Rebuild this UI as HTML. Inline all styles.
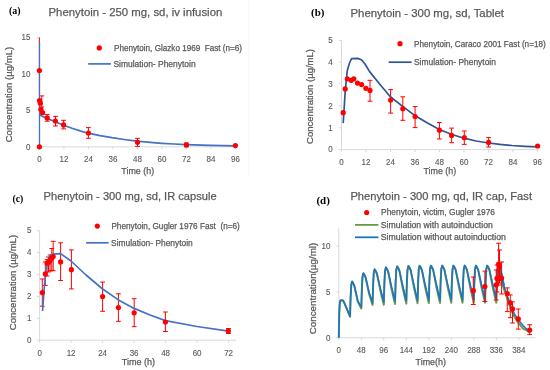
<!DOCTYPE html>
<html><head><meta charset="utf-8"><style>
html,body{margin:0;padding:0;background:#fff;}
svg{display:block;font-family:"Liberation Sans", sans-serif;will-change:transform;}
text{white-space:pre;}
</style></head><body>
<svg width="550" height="370" viewBox="0 0 550 370">
<rect width="550" height="370" fill="#fff"/>
<line x1="248.80" y1="0.00" x2="248.80" y2="176.00" stroke="#f2f2f2" stroke-width="0.8"/>
<text x="8.90" y="14.40" font-size="11" fill="#000" text-anchor="start" font-family='"Liberation Serif", serif' font-weight="bold" textLength="11.60" lengthAdjust="spacingAndGlyphs">(a)</text>
<text x="48.50" y="15.60" font-size="11.6" fill="#595959" text-anchor="start" stroke="#595959" stroke-width="0.25" textLength="173.80" lengthAdjust="spacingAndGlyphs">Phenytoin - 250 mg, sd, iv infusion</text>
<line x1="39.40" y1="146.80" x2="235.40" y2="146.80" stroke="#d9d9d9" stroke-width="1"/>
<line x1="39.40" y1="146.80" x2="39.40" y2="149.30" stroke="#d9d9d9" stroke-width="1"/>
<text x="39.40" y="161.91" font-size="8.5" fill="#595959" text-anchor="middle" stroke="#595959" stroke-width="0.12" textLength="4.45" lengthAdjust="spacingAndGlyphs">0</text>
<line x1="63.90" y1="146.80" x2="63.90" y2="149.30" stroke="#d9d9d9" stroke-width="1"/>
<text x="63.90" y="161.91" font-size="8.5" fill="#595959" text-anchor="middle" stroke="#595959" stroke-width="0.12" textLength="8.90" lengthAdjust="spacingAndGlyphs">12</text>
<line x1="88.40" y1="146.80" x2="88.40" y2="149.30" stroke="#d9d9d9" stroke-width="1"/>
<text x="88.40" y="161.91" font-size="8.5" fill="#595959" text-anchor="middle" stroke="#595959" stroke-width="0.12" textLength="8.90" lengthAdjust="spacingAndGlyphs">24</text>
<line x1="112.90" y1="146.80" x2="112.90" y2="149.30" stroke="#d9d9d9" stroke-width="1"/>
<text x="112.90" y="161.91" font-size="8.5" fill="#595959" text-anchor="middle" stroke="#595959" stroke-width="0.12" textLength="8.90" lengthAdjust="spacingAndGlyphs">36</text>
<line x1="137.40" y1="146.80" x2="137.40" y2="149.30" stroke="#d9d9d9" stroke-width="1"/>
<text x="137.40" y="161.91" font-size="8.5" fill="#595959" text-anchor="middle" stroke="#595959" stroke-width="0.12" textLength="8.90" lengthAdjust="spacingAndGlyphs">48</text>
<line x1="161.90" y1="146.80" x2="161.90" y2="149.30" stroke="#d9d9d9" stroke-width="1"/>
<text x="161.90" y="161.91" font-size="8.5" fill="#595959" text-anchor="middle" stroke="#595959" stroke-width="0.12" textLength="8.90" lengthAdjust="spacingAndGlyphs">60</text>
<line x1="186.40" y1="146.80" x2="186.40" y2="149.30" stroke="#d9d9d9" stroke-width="1"/>
<text x="186.40" y="161.91" font-size="8.5" fill="#595959" text-anchor="middle" stroke="#595959" stroke-width="0.12" textLength="8.90" lengthAdjust="spacingAndGlyphs">72</text>
<line x1="210.90" y1="146.80" x2="210.90" y2="149.30" stroke="#d9d9d9" stroke-width="1"/>
<text x="210.90" y="161.91" font-size="8.5" fill="#595959" text-anchor="middle" stroke="#595959" stroke-width="0.12" textLength="8.90" lengthAdjust="spacingAndGlyphs">84</text>
<line x1="235.40" y1="146.80" x2="235.40" y2="149.30" stroke="#d9d9d9" stroke-width="1"/>
<text x="235.40" y="161.91" font-size="8.5" fill="#595959" text-anchor="middle" stroke="#595959" stroke-width="0.12" textLength="8.90" lengthAdjust="spacingAndGlyphs">96</text>
<line x1="36.60" y1="146.80" x2="39.40" y2="146.80" stroke="#d9d9d9" stroke-width="1"/>
<text x="30.40" y="149.56" font-size="8.5" fill="#595959" text-anchor="end" stroke="#595959" stroke-width="0.12" textLength="4.45" lengthAdjust="spacingAndGlyphs">0</text>
<line x1="36.60" y1="110.40" x2="39.40" y2="110.40" stroke="#d9d9d9" stroke-width="1"/>
<text x="30.40" y="113.16" font-size="8.5" fill="#595959" text-anchor="end" stroke="#595959" stroke-width="0.12" textLength="4.45" lengthAdjust="spacingAndGlyphs">5</text>
<line x1="36.60" y1="74.00" x2="39.40" y2="74.00" stroke="#d9d9d9" stroke-width="1"/>
<text x="30.40" y="76.76" font-size="8.5" fill="#595959" text-anchor="end" stroke="#595959" stroke-width="0.12" textLength="8.90" lengthAdjust="spacingAndGlyphs">10</text>
<line x1="36.60" y1="37.60" x2="39.40" y2="37.60" stroke="#d9d9d9" stroke-width="1"/>
<text x="30.40" y="40.36" font-size="8.5" fill="#595959" text-anchor="end" stroke="#595959" stroke-width="0.12" textLength="8.90" lengthAdjust="spacingAndGlyphs">15</text>
<line x1="39.40" y1="37.60" x2="39.40" y2="146.80" stroke="#d9d9d9" stroke-width="1"/>
<text transform="translate(12.40,142.30) rotate(-90)" x="0" y="0" font-size="9.3" fill="#595959" stroke="#595959" stroke-width="0.25" textLength="95.50" lengthAdjust="spacingAndGlyphs">Concentration (µg/mL)</text>
<text x="121.30" y="173.90" font-size="9.3" fill="#595959" text-anchor="start" stroke="#595959" stroke-width="0.25" textLength="32.90" lengthAdjust="spacingAndGlyphs">Time (h)</text>
<circle cx="99.30" cy="47.90" r="2.6" fill="#ff0000"/>
<text x="114.00" y="50.80" font-size="8.6" fill="#595959" text-anchor="start" stroke="#595959" stroke-width="0.25" textLength="128.00" lengthAdjust="spacingAndGlyphs">Phenytoin, Glazko 1969  Fast (n=6)</text>
<line x1="88.20" y1="63.90" x2="110.90" y2="63.90" stroke="#4472c4" stroke-width="1.7"/>
<text x="113.40" y="66.70" font-size="8.6" fill="#595959" text-anchor="start" stroke="#595959" stroke-width="0.25" textLength="82.20" lengthAdjust="spacingAndGlyphs">Simulation- Phenytoin</text>
<line x1="39.40" y1="37.40" x2="39.40" y2="100.00" stroke="#ff0000" stroke-width="1.0"/>
<line x1="41.80" y1="95.90" x2="41.80" y2="107.00" stroke="#ff0000" stroke-width="1.0"/>
<line x1="39.40" y1="95.90" x2="44.20" y2="95.90" stroke="#ff0000" stroke-width="1.0"/>
<line x1="39.40" y1="107.00" x2="44.20" y2="107.00" stroke="#ff0000" stroke-width="1.0"/>
<line x1="47.20" y1="114.60" x2="47.20" y2="121.20" stroke="#ff0000" stroke-width="1.0"/>
<line x1="44.80" y1="114.60" x2="49.60" y2="114.60" stroke="#ff0000" stroke-width="1.0"/>
<line x1="44.80" y1="121.20" x2="49.60" y2="121.20" stroke="#ff0000" stroke-width="1.0"/>
<line x1="55.50" y1="116.40" x2="55.50" y2="126.00" stroke="#ff0000" stroke-width="1.0"/>
<line x1="53.10" y1="116.40" x2="57.90" y2="116.40" stroke="#ff0000" stroke-width="1.0"/>
<line x1="53.10" y1="126.00" x2="57.90" y2="126.00" stroke="#ff0000" stroke-width="1.0"/>
<line x1="63.60" y1="120.30" x2="63.60" y2="128.90" stroke="#ff0000" stroke-width="1.0"/>
<line x1="61.20" y1="120.30" x2="66.00" y2="120.30" stroke="#ff0000" stroke-width="1.0"/>
<line x1="61.20" y1="128.90" x2="66.00" y2="128.90" stroke="#ff0000" stroke-width="1.0"/>
<line x1="88.40" y1="127.60" x2="88.40" y2="138.30" stroke="#ff0000" stroke-width="1.0"/>
<line x1="86.00" y1="127.60" x2="90.80" y2="127.60" stroke="#ff0000" stroke-width="1.0"/>
<line x1="86.00" y1="138.30" x2="90.80" y2="138.30" stroke="#ff0000" stroke-width="1.0"/>
<line x1="137.50" y1="138.40" x2="137.50" y2="146.40" stroke="#ff0000" stroke-width="1.0"/>
<line x1="135.10" y1="138.40" x2="139.90" y2="138.40" stroke="#ff0000" stroke-width="1.0"/>
<line x1="135.10" y1="146.40" x2="139.90" y2="146.40" stroke="#ff0000" stroke-width="1.0"/>
<line x1="186.40" y1="143.00" x2="186.40" y2="146.80" stroke="#ff0000" stroke-width="1.0"/>
<line x1="184.00" y1="143.00" x2="188.80" y2="143.00" stroke="#ff0000" stroke-width="1.0"/>
<line x1="184.00" y1="146.80" x2="188.80" y2="146.80" stroke="#ff0000" stroke-width="1.0"/>
<path d="M39.50,146.80 L39.50,42.00" fill="none" stroke="#4472c4" stroke-width="1.3" stroke-linejoin="round"/>
<path d="M39.60,114.50 L41.00,115.60 L43.00,116.70 L47.00,118.40 L55.20,121.70 L63.60,125.30 L72.00,128.30 L80.00,130.90 L88.00,133.20 L100.00,135.60 L112.00,137.70 L124.00,139.50 L137.00,141.20 L150.00,142.40 L162.00,143.30 L174.00,144.00 L186.00,144.60 L210.00,145.40 L235.00,145.90" fill="none" stroke="#4472c4" stroke-width="1.7" stroke-linejoin="round"/>
<circle cx="39.40" cy="146.80" r="2.6" fill="#ff0000"/>
<circle cx="39.40" cy="70.50" r="2.6" fill="#ff0000"/>
<circle cx="39.50" cy="100.60" r="2.6" fill="#ff0000"/>
<circle cx="40.30" cy="103.20" r="2.6" fill="#ff0000"/>
<circle cx="40.90" cy="109.30" r="2.6" fill="#ff0000"/>
<circle cx="42.60" cy="112.70" r="2.6" fill="#ff0000"/>
<circle cx="47.20" cy="117.90" r="2.6" fill="#ff0000"/>
<circle cx="55.40" cy="121.00" r="2.6" fill="#ff0000"/>
<circle cx="63.60" cy="124.90" r="2.6" fill="#ff0000"/>
<circle cx="88.40" cy="133.00" r="2.6" fill="#ff0000"/>
<circle cx="137.50" cy="142.30" r="2.6" fill="#ff0000"/>
<circle cx="186.40" cy="144.90" r="2.6" fill="#ff0000"/>
<circle cx="235.40" cy="145.60" r="2.6" fill="#ff0000"/>
<text x="311.00" y="15.50" font-size="11" fill="#000" text-anchor="start" font-family='"Liberation Serif", serif' font-weight="bold" textLength="13.40" lengthAdjust="spacingAndGlyphs">(b)</text>
<text x="350.50" y="16.50" font-size="11.6" fill="#595959" text-anchor="start" stroke="#595959" stroke-width="0.25" textLength="153.50" lengthAdjust="spacingAndGlyphs">Phenytoin - 300 mg, sd, Tablet</text>
<line x1="341.50" y1="149.60" x2="537.53" y2="149.60" stroke="#d9d9d9" stroke-width="1"/>
<line x1="341.50" y1="149.60" x2="341.50" y2="152.10" stroke="#d9d9d9" stroke-width="1"/>
<text x="341.50" y="164.71" font-size="8.5" fill="#595959" text-anchor="middle" stroke="#595959" stroke-width="0.12" textLength="4.45" lengthAdjust="spacingAndGlyphs">0</text>
<line x1="366.00" y1="149.60" x2="366.00" y2="152.10" stroke="#d9d9d9" stroke-width="1"/>
<text x="366.00" y="164.71" font-size="8.5" fill="#595959" text-anchor="middle" stroke="#595959" stroke-width="0.12" textLength="8.90" lengthAdjust="spacingAndGlyphs">12</text>
<line x1="390.51" y1="149.60" x2="390.51" y2="152.10" stroke="#d9d9d9" stroke-width="1"/>
<text x="390.51" y="164.71" font-size="8.5" fill="#595959" text-anchor="middle" stroke="#595959" stroke-width="0.12" textLength="8.90" lengthAdjust="spacingAndGlyphs">24</text>
<line x1="415.01" y1="149.60" x2="415.01" y2="152.10" stroke="#d9d9d9" stroke-width="1"/>
<text x="415.01" y="164.71" font-size="8.5" fill="#595959" text-anchor="middle" stroke="#595959" stroke-width="0.12" textLength="8.90" lengthAdjust="spacingAndGlyphs">36</text>
<line x1="439.52" y1="149.60" x2="439.52" y2="152.10" stroke="#d9d9d9" stroke-width="1"/>
<text x="439.52" y="164.71" font-size="8.5" fill="#595959" text-anchor="middle" stroke="#595959" stroke-width="0.12" textLength="8.90" lengthAdjust="spacingAndGlyphs">48</text>
<line x1="464.02" y1="149.60" x2="464.02" y2="152.10" stroke="#d9d9d9" stroke-width="1"/>
<text x="464.02" y="164.71" font-size="8.5" fill="#595959" text-anchor="middle" stroke="#595959" stroke-width="0.12" textLength="8.90" lengthAdjust="spacingAndGlyphs">60</text>
<line x1="488.52" y1="149.60" x2="488.52" y2="152.10" stroke="#d9d9d9" stroke-width="1"/>
<text x="488.52" y="164.71" font-size="8.5" fill="#595959" text-anchor="middle" stroke="#595959" stroke-width="0.12" textLength="8.90" lengthAdjust="spacingAndGlyphs">72</text>
<line x1="513.03" y1="149.60" x2="513.03" y2="152.10" stroke="#d9d9d9" stroke-width="1"/>
<text x="513.03" y="164.71" font-size="8.5" fill="#595959" text-anchor="middle" stroke="#595959" stroke-width="0.12" textLength="8.90" lengthAdjust="spacingAndGlyphs">84</text>
<line x1="537.53" y1="149.60" x2="537.53" y2="152.10" stroke="#d9d9d9" stroke-width="1"/>
<text x="537.53" y="164.71" font-size="8.5" fill="#595959" text-anchor="middle" stroke="#595959" stroke-width="0.12" textLength="8.90" lengthAdjust="spacingAndGlyphs">96</text>
<line x1="338.70" y1="149.60" x2="341.50" y2="149.60" stroke="#d9d9d9" stroke-width="1"/>
<text x="332.60" y="152.36" font-size="8.5" fill="#595959" text-anchor="end" stroke="#595959" stroke-width="0.12" textLength="4.45" lengthAdjust="spacingAndGlyphs">0</text>
<line x1="338.70" y1="127.76" x2="341.50" y2="127.76" stroke="#d9d9d9" stroke-width="1"/>
<text x="332.60" y="130.52" font-size="8.5" fill="#595959" text-anchor="end" stroke="#595959" stroke-width="0.12" textLength="4.45" lengthAdjust="spacingAndGlyphs">1</text>
<line x1="338.70" y1="105.92" x2="341.50" y2="105.92" stroke="#d9d9d9" stroke-width="1"/>
<text x="332.60" y="108.68" font-size="8.5" fill="#595959" text-anchor="end" stroke="#595959" stroke-width="0.12" textLength="4.45" lengthAdjust="spacingAndGlyphs">2</text>
<line x1="338.70" y1="84.08" x2="341.50" y2="84.08" stroke="#d9d9d9" stroke-width="1"/>
<text x="332.60" y="86.84" font-size="8.5" fill="#595959" text-anchor="end" stroke="#595959" stroke-width="0.12" textLength="4.45" lengthAdjust="spacingAndGlyphs">3</text>
<line x1="338.70" y1="62.24" x2="341.50" y2="62.24" stroke="#d9d9d9" stroke-width="1"/>
<text x="332.60" y="65.00" font-size="8.5" fill="#595959" text-anchor="end" stroke="#595959" stroke-width="0.12" textLength="4.45" lengthAdjust="spacingAndGlyphs">4</text>
<line x1="338.70" y1="40.40" x2="341.50" y2="40.40" stroke="#d9d9d9" stroke-width="1"/>
<text x="332.60" y="43.16" font-size="8.5" fill="#595959" text-anchor="end" stroke="#595959" stroke-width="0.12" textLength="4.45" lengthAdjust="spacingAndGlyphs">5</text>
<line x1="341.50" y1="40.40" x2="341.50" y2="149.60" stroke="#d9d9d9" stroke-width="1"/>
<text transform="translate(313.20,144.00) rotate(-90)" x="0" y="0" font-size="9.3" fill="#595959" stroke="#595959" stroke-width="0.25" textLength="95.00" lengthAdjust="spacingAndGlyphs">Concentration (µg/mL)</text>
<text x="423.40" y="173.90" font-size="9.3" fill="#595959" text-anchor="start" stroke="#595959" stroke-width="0.25" textLength="32.80" lengthAdjust="spacingAndGlyphs">Time (h)</text>
<circle cx="400.00" cy="43.70" r="2.6" fill="#ff0000"/>
<text x="414.10" y="46.90" font-size="8.6" fill="#595959" text-anchor="start" stroke="#595959" stroke-width="0.25" textLength="131.60" lengthAdjust="spacingAndGlyphs">Phenytoin, Caraco 2001 Fast (n=18)</text>
<line x1="388.60" y1="62.20" x2="411.60" y2="62.20" stroke="#2f5597" stroke-width="1.7"/>
<text x="414.00" y="64.70" font-size="8.6" fill="#595959" text-anchor="start" stroke="#595959" stroke-width="0.25" textLength="81.90" lengthAdjust="spacingAndGlyphs">Simulation- Phenytoin</text>
<line x1="370.00" y1="80.30" x2="370.00" y2="101.20" stroke="#ff0000" stroke-width="1.0"/>
<line x1="367.60" y1="80.30" x2="372.40" y2="80.30" stroke="#ff0000" stroke-width="1.0"/>
<line x1="367.60" y1="101.20" x2="372.40" y2="101.20" stroke="#ff0000" stroke-width="1.0"/>
<line x1="390.60" y1="89.60" x2="390.60" y2="113.10" stroke="#ff0000" stroke-width="1.0"/>
<line x1="388.20" y1="89.60" x2="393.00" y2="89.60" stroke="#ff0000" stroke-width="1.0"/>
<line x1="388.20" y1="113.10" x2="393.00" y2="113.10" stroke="#ff0000" stroke-width="1.0"/>
<line x1="402.80" y1="96.80" x2="402.80" y2="120.30" stroke="#ff0000" stroke-width="1.0"/>
<line x1="400.40" y1="96.80" x2="405.20" y2="96.80" stroke="#ff0000" stroke-width="1.0"/>
<line x1="400.40" y1="120.30" x2="405.20" y2="120.30" stroke="#ff0000" stroke-width="1.0"/>
<line x1="415.10" y1="106.60" x2="415.10" y2="127.60" stroke="#ff0000" stroke-width="1.0"/>
<line x1="412.70" y1="106.60" x2="417.50" y2="106.60" stroke="#ff0000" stroke-width="1.0"/>
<line x1="412.70" y1="127.60" x2="417.50" y2="127.60" stroke="#ff0000" stroke-width="1.0"/>
<line x1="439.40" y1="122.50" x2="439.40" y2="139.00" stroke="#ff0000" stroke-width="1.0"/>
<line x1="437.00" y1="122.50" x2="441.80" y2="122.50" stroke="#ff0000" stroke-width="1.0"/>
<line x1="437.00" y1="139.00" x2="441.80" y2="139.00" stroke="#ff0000" stroke-width="1.0"/>
<line x1="451.60" y1="128.10" x2="451.60" y2="142.70" stroke="#ff0000" stroke-width="1.0"/>
<line x1="449.20" y1="128.10" x2="454.00" y2="128.10" stroke="#ff0000" stroke-width="1.0"/>
<line x1="449.20" y1="142.70" x2="454.00" y2="142.70" stroke="#ff0000" stroke-width="1.0"/>
<line x1="464.30" y1="131.00" x2="464.30" y2="144.40" stroke="#ff0000" stroke-width="1.0"/>
<line x1="461.90" y1="131.00" x2="466.70" y2="131.00" stroke="#ff0000" stroke-width="1.0"/>
<line x1="461.90" y1="144.40" x2="466.70" y2="144.40" stroke="#ff0000" stroke-width="1.0"/>
<line x1="488.60" y1="137.60" x2="488.60" y2="147.00" stroke="#ff0000" stroke-width="1.0"/>
<line x1="486.20" y1="137.60" x2="491.00" y2="137.60" stroke="#ff0000" stroke-width="1.0"/>
<line x1="486.20" y1="147.00" x2="491.00" y2="147.00" stroke="#ff0000" stroke-width="1.0"/>
<path d="M343.20,123.10 L345.30,90.00 L347.30,70.50 L349.50,63.00 L351.60,58.60 L357.70,58.40 L361.40,59.70 L365.00,64.00 L369.60,71.60 L380.00,84.50 L390.10,96.50 L402.00,105.80 L414.00,114.90 L427.00,122.80 L439.40,129.50 L452.00,134.50 L464.00,138.20 L476.00,141.00 L488.60,143.00 L500.00,144.40 L512.00,145.50 L525.00,146.30 L537.60,146.80" fill="none" stroke="#2f5597" stroke-width="1.7" stroke-linejoin="round"/>
<circle cx="343.20" cy="112.70" r="2.6" fill="#ff0000"/>
<circle cx="345.20" cy="88.90" r="2.6" fill="#ff0000"/>
<circle cx="347.30" cy="78.80" r="2.6" fill="#ff0000"/>
<circle cx="351.20" cy="80.30" r="2.6" fill="#ff0000"/>
<circle cx="353.80" cy="78.80" r="2.6" fill="#ff0000"/>
<circle cx="357.50" cy="83.10" r="2.6" fill="#ff0000"/>
<circle cx="361.60" cy="84.60" r="2.6" fill="#ff0000"/>
<circle cx="365.90" cy="88.30" r="2.6" fill="#ff0000"/>
<circle cx="370.00" cy="90.40" r="2.6" fill="#ff0000"/>
<circle cx="390.60" cy="100.10" r="2.6" fill="#ff0000"/>
<circle cx="402.80" cy="108.70" r="2.6" fill="#ff0000"/>
<circle cx="415.10" cy="116.50" r="2.6" fill="#ff0000"/>
<circle cx="439.40" cy="130.20" r="2.6" fill="#ff0000"/>
<circle cx="451.60" cy="135.40" r="2.6" fill="#ff0000"/>
<circle cx="464.30" cy="137.70" r="2.6" fill="#ff0000"/>
<circle cx="488.60" cy="142.40" r="2.6" fill="#ff0000"/>
<circle cx="537.60" cy="146.00" r="2.6" fill="#ff0000"/>
<text x="12.40" y="202.10" font-size="11" fill="#000" text-anchor="start" font-family='"Liberation Serif", serif' font-weight="bold" textLength="10.80" lengthAdjust="spacingAndGlyphs">(c)</text>
<text x="43.60" y="200.30" font-size="11.6" fill="#595959" text-anchor="start" stroke="#595959" stroke-width="0.25" textLength="173.00" lengthAdjust="spacingAndGlyphs">Phenytoin - 300 mg, sd, IR capsule</text>
<line x1="39.60" y1="340.20" x2="236.40" y2="340.20" stroke="#d9d9d9" stroke-width="1"/>
<line x1="39.60" y1="340.20" x2="39.60" y2="342.70" stroke="#d9d9d9" stroke-width="1"/>
<text x="39.60" y="355.61" font-size="8.5" fill="#595959" text-anchor="middle" stroke="#595959" stroke-width="0.12" textLength="4.45" lengthAdjust="spacingAndGlyphs">0</text>
<line x1="71.10" y1="340.20" x2="71.10" y2="342.70" stroke="#d9d9d9" stroke-width="1"/>
<text x="71.10" y="355.61" font-size="8.5" fill="#595959" text-anchor="middle" stroke="#595959" stroke-width="0.12" textLength="8.90" lengthAdjust="spacingAndGlyphs">12</text>
<line x1="102.60" y1="340.20" x2="102.60" y2="342.70" stroke="#d9d9d9" stroke-width="1"/>
<text x="102.60" y="355.61" font-size="8.5" fill="#595959" text-anchor="middle" stroke="#595959" stroke-width="0.12" textLength="8.90" lengthAdjust="spacingAndGlyphs">24</text>
<line x1="134.10" y1="340.20" x2="134.10" y2="342.70" stroke="#d9d9d9" stroke-width="1"/>
<text x="134.10" y="355.61" font-size="8.5" fill="#595959" text-anchor="middle" stroke="#595959" stroke-width="0.12" textLength="8.90" lengthAdjust="spacingAndGlyphs">36</text>
<line x1="165.60" y1="340.20" x2="165.60" y2="342.70" stroke="#d9d9d9" stroke-width="1"/>
<text x="165.60" y="355.61" font-size="8.5" fill="#595959" text-anchor="middle" stroke="#595959" stroke-width="0.12" textLength="8.90" lengthAdjust="spacingAndGlyphs">48</text>
<line x1="197.10" y1="340.20" x2="197.10" y2="342.70" stroke="#d9d9d9" stroke-width="1"/>
<text x="197.10" y="355.61" font-size="8.5" fill="#595959" text-anchor="middle" stroke="#595959" stroke-width="0.12" textLength="8.90" lengthAdjust="spacingAndGlyphs">60</text>
<line x1="228.60" y1="340.20" x2="228.60" y2="342.70" stroke="#d9d9d9" stroke-width="1"/>
<text x="228.60" y="355.61" font-size="8.5" fill="#595959" text-anchor="middle" stroke="#595959" stroke-width="0.12" textLength="8.90" lengthAdjust="spacingAndGlyphs">72</text>
<line x1="36.80" y1="340.20" x2="39.60" y2="340.20" stroke="#d9d9d9" stroke-width="1"/>
<text x="31.40" y="342.96" font-size="8.5" fill="#595959" text-anchor="end" stroke="#595959" stroke-width="0.12" textLength="4.45" lengthAdjust="spacingAndGlyphs">0</text>
<line x1="36.80" y1="318.30" x2="39.60" y2="318.30" stroke="#d9d9d9" stroke-width="1"/>
<text x="31.40" y="321.06" font-size="8.5" fill="#595959" text-anchor="end" stroke="#595959" stroke-width="0.12" textLength="4.45" lengthAdjust="spacingAndGlyphs">1</text>
<line x1="36.80" y1="296.40" x2="39.60" y2="296.40" stroke="#d9d9d9" stroke-width="1"/>
<text x="31.40" y="299.16" font-size="8.5" fill="#595959" text-anchor="end" stroke="#595959" stroke-width="0.12" textLength="4.45" lengthAdjust="spacingAndGlyphs">2</text>
<line x1="36.80" y1="274.50" x2="39.60" y2="274.50" stroke="#d9d9d9" stroke-width="1"/>
<text x="31.40" y="277.26" font-size="8.5" fill="#595959" text-anchor="end" stroke="#595959" stroke-width="0.12" textLength="4.45" lengthAdjust="spacingAndGlyphs">3</text>
<line x1="36.80" y1="252.60" x2="39.60" y2="252.60" stroke="#d9d9d9" stroke-width="1"/>
<text x="31.40" y="255.36" font-size="8.5" fill="#595959" text-anchor="end" stroke="#595959" stroke-width="0.12" textLength="4.45" lengthAdjust="spacingAndGlyphs">4</text>
<line x1="36.80" y1="230.70" x2="39.60" y2="230.70" stroke="#d9d9d9" stroke-width="1"/>
<text x="31.40" y="233.46" font-size="8.5" fill="#595959" text-anchor="end" stroke="#595959" stroke-width="0.12" textLength="4.45" lengthAdjust="spacingAndGlyphs">5</text>
<line x1="39.60" y1="230.70" x2="39.60" y2="340.20" stroke="#d9d9d9" stroke-width="1"/>
<text transform="translate(16.00,330.20) rotate(-90)" x="0" y="0" font-size="9.3" fill="#595959" stroke="#595959" stroke-width="0.25" textLength="95.30" lengthAdjust="spacingAndGlyphs">Concentration (µg/mL)</text>
<text x="121.70" y="364.80" font-size="9.3" fill="#595959" text-anchor="start" stroke="#595959" stroke-width="0.25" textLength="33.40" lengthAdjust="spacingAndGlyphs">Time (h)</text>
<circle cx="97.30" cy="226.10" r="2.6" fill="#ff0000"/>
<text x="111.40" y="229.00" font-size="8.6" fill="#595959" text-anchor="start" stroke="#595959" stroke-width="0.25" textLength="128.40" lengthAdjust="spacingAndGlyphs">Phenytoin, Gugler 1976 Fast  (n=6)</text>
<line x1="86.10" y1="242.80" x2="108.60" y2="242.80" stroke="#4472c4" stroke-width="1.7"/>
<text x="111.10" y="245.90" font-size="8.6" fill="#595959" text-anchor="start" stroke="#595959" stroke-width="0.25" textLength="81.60" lengthAdjust="spacingAndGlyphs">Simulation- Phenytoin</text>
<line x1="42.30" y1="279.00" x2="42.30" y2="306.20" stroke="#ff0000" stroke-width="1.0"/>
<line x1="39.90" y1="279.00" x2="44.70" y2="279.00" stroke="#ff0000" stroke-width="1.0"/>
<line x1="39.90" y1="306.20" x2="44.70" y2="306.20" stroke="#ff0000" stroke-width="1.0"/>
<line x1="45.30" y1="262.00" x2="45.30" y2="285.50" stroke="#ff0000" stroke-width="1.0"/>
<line x1="42.90" y1="262.00" x2="47.70" y2="262.00" stroke="#ff0000" stroke-width="1.0"/>
<line x1="42.90" y1="285.50" x2="47.70" y2="285.50" stroke="#ff0000" stroke-width="1.0"/>
<line x1="47.10" y1="259.60" x2="47.10" y2="276.00" stroke="#ff0000" stroke-width="1.0"/>
<line x1="44.70" y1="259.60" x2="49.50" y2="259.60" stroke="#ff0000" stroke-width="1.0"/>
<line x1="44.70" y1="276.00" x2="49.50" y2="276.00" stroke="#ff0000" stroke-width="1.0"/>
<line x1="48.50" y1="257.00" x2="48.50" y2="272.00" stroke="#ff0000" stroke-width="1.0"/>
<line x1="46.10" y1="257.00" x2="50.90" y2="257.00" stroke="#ff0000" stroke-width="1.0"/>
<line x1="46.10" y1="272.00" x2="50.90" y2="272.00" stroke="#ff0000" stroke-width="1.0"/>
<line x1="50.10" y1="255.00" x2="50.10" y2="271.00" stroke="#ff0000" stroke-width="1.0"/>
<line x1="47.70" y1="255.00" x2="52.50" y2="255.00" stroke="#ff0000" stroke-width="1.0"/>
<line x1="47.70" y1="271.00" x2="52.50" y2="271.00" stroke="#ff0000" stroke-width="1.0"/>
<line x1="51.80" y1="248.50" x2="51.80" y2="270.50" stroke="#ff0000" stroke-width="1.0"/>
<line x1="49.40" y1="248.50" x2="54.20" y2="248.50" stroke="#ff0000" stroke-width="1.0"/>
<line x1="49.40" y1="270.50" x2="54.20" y2="270.50" stroke="#ff0000" stroke-width="1.0"/>
<line x1="53.20" y1="241.30" x2="53.20" y2="270.70" stroke="#ff0000" stroke-width="1.0"/>
<line x1="50.80" y1="241.30" x2="55.60" y2="241.30" stroke="#ff0000" stroke-width="1.0"/>
<line x1="50.80" y1="270.70" x2="55.60" y2="270.70" stroke="#ff0000" stroke-width="1.0"/>
<line x1="60.60" y1="242.80" x2="60.60" y2="280.50" stroke="#ff0000" stroke-width="1.0"/>
<line x1="58.20" y1="242.80" x2="63.00" y2="242.80" stroke="#ff0000" stroke-width="1.0"/>
<line x1="58.20" y1="280.50" x2="63.00" y2="280.50" stroke="#ff0000" stroke-width="1.0"/>
<line x1="71.40" y1="249.90" x2="71.40" y2="288.90" stroke="#ff0000" stroke-width="1.0"/>
<line x1="69.00" y1="249.90" x2="73.80" y2="249.90" stroke="#ff0000" stroke-width="1.0"/>
<line x1="69.00" y1="288.90" x2="73.80" y2="288.90" stroke="#ff0000" stroke-width="1.0"/>
<line x1="102.60" y1="282.10" x2="102.60" y2="311.30" stroke="#ff0000" stroke-width="1.0"/>
<line x1="100.20" y1="282.10" x2="105.00" y2="282.10" stroke="#ff0000" stroke-width="1.0"/>
<line x1="100.20" y1="311.30" x2="105.00" y2="311.30" stroke="#ff0000" stroke-width="1.0"/>
<line x1="118.40" y1="293.80" x2="118.40" y2="321.30" stroke="#ff0000" stroke-width="1.0"/>
<line x1="116.00" y1="293.80" x2="120.80" y2="293.80" stroke="#ff0000" stroke-width="1.0"/>
<line x1="116.00" y1="321.30" x2="120.80" y2="321.30" stroke="#ff0000" stroke-width="1.0"/>
<line x1="134.20" y1="298.70" x2="134.20" y2="326.70" stroke="#ff0000" stroke-width="1.0"/>
<line x1="131.80" y1="298.70" x2="136.60" y2="298.70" stroke="#ff0000" stroke-width="1.0"/>
<line x1="131.80" y1="326.70" x2="136.60" y2="326.70" stroke="#ff0000" stroke-width="1.0"/>
<line x1="165.40" y1="312.00" x2="165.40" y2="331.50" stroke="#ff0000" stroke-width="1.0"/>
<line x1="163.00" y1="312.00" x2="167.80" y2="312.00" stroke="#ff0000" stroke-width="1.0"/>
<line x1="163.00" y1="331.50" x2="167.80" y2="331.50" stroke="#ff0000" stroke-width="1.0"/>
<line x1="228.50" y1="328.50" x2="228.50" y2="333.50" stroke="#ff0000" stroke-width="1.0"/>
<line x1="226.10" y1="328.50" x2="230.90" y2="328.50" stroke="#ff0000" stroke-width="1.0"/>
<line x1="226.10" y1="333.50" x2="230.90" y2="333.50" stroke="#ff0000" stroke-width="1.0"/>
<path d="M42.50,311.00 L44.50,285.00 L46.70,263.00 L50.00,255.50 L53.00,254.20 L60.50,253.60 L71.00,261.00 L86.00,275.00 L102.60,289.00 L118.40,299.90 L134.20,308.40 L150.00,315.00 L165.40,320.60 L197.00,326.50 L228.50,331.10" fill="none" stroke="#4472c4" stroke-width="1.7" stroke-linejoin="round"/>
<circle cx="42.30" cy="292.60" r="2.6" fill="#ff0000"/>
<circle cx="45.30" cy="273.90" r="2.6" fill="#ff0000"/>
<circle cx="47.10" cy="263.10" r="2.6" fill="#ff0000"/>
<circle cx="48.50" cy="262.20" r="2.6" fill="#ff0000"/>
<circle cx="50.10" cy="260.30" r="2.6" fill="#ff0000"/>
<circle cx="51.80" cy="257.90" r="2.6" fill="#ff0000"/>
<circle cx="53.20" cy="256.50" r="2.6" fill="#ff0000"/>
<circle cx="60.60" cy="261.90" r="2.6" fill="#ff0000"/>
<circle cx="71.40" cy="269.70" r="2.6" fill="#ff0000"/>
<circle cx="102.60" cy="296.60" r="2.6" fill="#ff0000"/>
<circle cx="118.40" cy="307.50" r="2.6" fill="#ff0000"/>
<circle cx="134.20" cy="312.80" r="2.6" fill="#ff0000"/>
<circle cx="165.40" cy="322.00" r="2.6" fill="#ff0000"/>
<circle cx="228.30" cy="330.90" r="2.6" fill="#ff0000"/>
<text x="316.40" y="203.50" font-size="11" fill="#000" text-anchor="start" font-family='"Liberation Serif", serif' font-weight="bold" textLength="13.40" lengthAdjust="spacingAndGlyphs">(d)</text>
<text x="350.40" y="200.30" font-size="11.6" fill="#595959" text-anchor="start" stroke="#595959" stroke-width="0.25" textLength="181.60" lengthAdjust="spacingAndGlyphs">Phenytoin - 300 mg, qd, IR cap, Fast</text>
<line x1="338.80" y1="337.80" x2="535.40" y2="337.80" stroke="#d9d9d9" stroke-width="1"/>
<line x1="338.80" y1="337.80" x2="338.80" y2="340.30" stroke="#d9d9d9" stroke-width="1"/>
<text x="338.80" y="353.01" font-size="8.5" fill="#595959" text-anchor="middle" stroke="#595959" stroke-width="0.12" textLength="4.45" lengthAdjust="spacingAndGlyphs">0</text>
<line x1="361.30" y1="337.80" x2="361.30" y2="340.30" stroke="#d9d9d9" stroke-width="1"/>
<text x="361.30" y="353.01" font-size="8.5" fill="#595959" text-anchor="middle" stroke="#595959" stroke-width="0.12" textLength="8.90" lengthAdjust="spacingAndGlyphs">48</text>
<line x1="383.80" y1="337.80" x2="383.80" y2="340.30" stroke="#d9d9d9" stroke-width="1"/>
<text x="383.80" y="353.01" font-size="8.5" fill="#595959" text-anchor="middle" stroke="#595959" stroke-width="0.12" textLength="8.90" lengthAdjust="spacingAndGlyphs">96</text>
<line x1="406.30" y1="337.80" x2="406.30" y2="340.30" stroke="#d9d9d9" stroke-width="1"/>
<text x="406.30" y="353.01" font-size="8.5" fill="#595959" text-anchor="middle" stroke="#595959" stroke-width="0.12" textLength="13.35" lengthAdjust="spacingAndGlyphs">144</text>
<line x1="428.80" y1="337.80" x2="428.80" y2="340.30" stroke="#d9d9d9" stroke-width="1"/>
<text x="428.80" y="353.01" font-size="8.5" fill="#595959" text-anchor="middle" stroke="#595959" stroke-width="0.12" textLength="13.35" lengthAdjust="spacingAndGlyphs">192</text>
<line x1="451.30" y1="337.80" x2="451.30" y2="340.30" stroke="#d9d9d9" stroke-width="1"/>
<text x="451.30" y="353.01" font-size="8.5" fill="#595959" text-anchor="middle" stroke="#595959" stroke-width="0.12" textLength="13.35" lengthAdjust="spacingAndGlyphs">240</text>
<line x1="473.80" y1="337.80" x2="473.80" y2="340.30" stroke="#d9d9d9" stroke-width="1"/>
<text x="473.80" y="353.01" font-size="8.5" fill="#595959" text-anchor="middle" stroke="#595959" stroke-width="0.12" textLength="13.35" lengthAdjust="spacingAndGlyphs">288</text>
<line x1="496.30" y1="337.80" x2="496.30" y2="340.30" stroke="#d9d9d9" stroke-width="1"/>
<text x="496.30" y="353.01" font-size="8.5" fill="#595959" text-anchor="middle" stroke="#595959" stroke-width="0.12" textLength="13.35" lengthAdjust="spacingAndGlyphs">336</text>
<line x1="518.80" y1="337.80" x2="518.80" y2="340.30" stroke="#d9d9d9" stroke-width="1"/>
<text x="518.80" y="353.01" font-size="8.5" fill="#595959" text-anchor="middle" stroke="#595959" stroke-width="0.12" textLength="13.35" lengthAdjust="spacingAndGlyphs">384</text>
<line x1="336.30" y1="337.80" x2="338.80" y2="337.80" stroke="#d9d9d9" stroke-width="1"/>
<text x="330.40" y="340.56" font-size="8.5" fill="#595959" text-anchor="end" stroke="#595959" stroke-width="0.12" textLength="4.45" lengthAdjust="spacingAndGlyphs">0</text>
<line x1="336.30" y1="291.95" x2="338.80" y2="291.95" stroke="#d9d9d9" stroke-width="1"/>
<text x="330.40" y="294.71" font-size="8.5" fill="#595959" text-anchor="end" stroke="#595959" stroke-width="0.12" textLength="4.45" lengthAdjust="spacingAndGlyphs">5</text>
<line x1="336.30" y1="246.10" x2="338.80" y2="246.10" stroke="#d9d9d9" stroke-width="1"/>
<text x="330.40" y="248.86" font-size="8.5" fill="#595959" text-anchor="end" stroke="#595959" stroke-width="0.12" textLength="8.90" lengthAdjust="spacingAndGlyphs">10</text>
<line x1="338.80" y1="228.40" x2="338.80" y2="337.80" stroke="#d9d9d9" stroke-width="1"/>
<text transform="translate(315.50,334.20) rotate(-90)" x="0" y="0" font-size="9.3" fill="#595959" stroke="#595959" stroke-width="0.25" textLength="91.40" lengthAdjust="spacingAndGlyphs">Concentration(µg/ml)</text>
<text x="415.60" y="364.50" font-size="9.3" fill="#595959" text-anchor="start" stroke="#595959" stroke-width="0.25" textLength="30.40" lengthAdjust="spacingAndGlyphs">Time(h)</text>
<circle cx="366.70" cy="212.50" r="2.6" fill="#ff0000"/>
<text x="381.10" y="215.40" font-size="8.6" fill="#595959" text-anchor="start" stroke="#595959" stroke-width="0.25" textLength="113.90" lengthAdjust="spacingAndGlyphs">Phenytoin, victim, Gugler 1976</text>
<line x1="355.00" y1="224.90" x2="378.40" y2="224.90" stroke="#6b9a45" stroke-width="1.8"/>
<text x="380.80" y="227.70" font-size="8.6" fill="#595959" text-anchor="start" stroke="#595959" stroke-width="0.25" textLength="112.00" lengthAdjust="spacingAndGlyphs">Simulation with autoinduction</text>
<line x1="355.00" y1="237.30" x2="378.40" y2="237.30" stroke="#1f74c2" stroke-width="1.8"/>
<text x="380.80" y="240.10" font-size="8.6" fill="#595959" text-anchor="start" stroke="#595959" stroke-width="0.25" textLength="125.10" lengthAdjust="spacingAndGlyphs">Simulation without autoinduction</text>
<path d="M338.80,337.80 L339.27,311.93 L339.83,302.69 L340.44,300.38 L343.02,300.38 L344.19,302.69 L350.05,316.78 L350.61,297.42 L351.27,285.10 L352.10,281.57 L352.92,282.68 L354.33,285.73 L357.78,301.53 L361.30,308.51 L361.86,289.20 L362.52,276.91 L363.39,273.40 L364.23,274.51 L365.64,277.56 L369.03,293.59 L372.55,304.95 L373.11,285.49 L373.77,273.10 L374.67,269.56 L375.54,270.67 L376.94,273.72 L380.28,290.17 L383.80,304.72 L384.36,284.34 L385.02,271.37 L385.96,267.67 L386.85,268.78 L388.25,271.83 L391.53,289.38 L395.05,303.98 L395.61,283.45 L396.27,270.38 L397.21,266.65 L398.10,267.76 L399.50,270.81 L402.78,288.50 L406.30,303.61 L406.86,283.08 L407.52,270.02 L408.46,266.28 L409.35,267.39 L410.75,270.44 L414.03,288.13 L417.55,303.33 L418.11,282.85 L418.77,269.82 L419.71,266.10 L420.60,267.21 L422.00,270.26 L425.28,287.90 L428.80,303.15 L429.36,282.72 L430.02,269.72 L430.96,266.01 L431.85,267.11 L433.25,270.16 L436.53,287.77 L440.05,302.97 L440.61,282.59 L441.27,269.62 L442.21,265.91 L443.10,267.02 L444.50,270.07 L447.78,287.63 L451.30,302.87 L451.86,282.54 L452.52,269.61 L453.46,265.91 L454.35,267.02 L455.75,270.07 L459.03,287.58 L462.55,302.78 L463.11,282.50 L463.77,269.60 L464.71,265.91 L465.60,267.02 L467.00,270.07 L470.28,287.53 L473.80,302.78 L474.36,282.50 L475.02,269.60 L475.96,265.91 L476.85,267.02 L478.25,270.07 L481.53,287.53 L485.05,302.78 L485.61,282.50 L486.27,269.60 L487.21,265.91 L488.10,267.02 L489.50,270.07 L492.78,287.53 L496.30,302.78 L496.86,282.50 L497.52,269.60 L498.46,265.91 L499.35,267.02 L500.75,270.07 L504.03,287.53 L497.94,266.19 L499.25,268.50 L501.93,282.91 L506.38,296.13 L510.83,309.25 L514.11,316.27 L517.86,322.09 L523.02,328.56 L526.30,330.13 L530.05,332.81" fill="none" stroke="#6b9a45" stroke-width="2.0" stroke-linejoin="round"/>
<path d="M338.80,337.80 L339.27,311.93 L339.83,302.69 L340.44,300.38 L343.02,300.38 L344.19,302.69 L350.05,316.09 L350.61,297.03 L351.27,284.90 L352.07,281.44 L352.86,282.54 L354.27,285.59 L357.78,300.84 L361.30,307.12 L361.86,288.42 L362.52,276.52 L363.32,273.12 L364.11,274.23 L365.52,277.28 L369.03,292.20 L372.55,302.87 L373.11,284.32 L373.77,272.52 L374.57,269.15 L375.36,270.26 L376.77,273.30 L380.28,288.09 L383.80,301.95 L384.36,282.79 L385.02,270.60 L385.82,267.11 L386.61,268.22 L388.02,271.27 L391.53,286.61 L395.05,301.21 L395.61,281.90 L396.27,269.61 L397.07,266.10 L397.86,267.21 L399.27,270.26 L402.78,285.73 L406.30,300.84 L406.86,281.53 L407.52,269.24 L408.32,265.73 L409.11,266.84 L410.52,269.89 L414.03,285.36 L417.55,300.56 L418.11,281.30 L418.77,269.05 L419.57,265.54 L420.36,266.65 L421.77,269.70 L425.28,285.13 L428.80,300.38 L429.36,281.17 L430.02,268.94 L430.82,265.45 L431.61,266.56 L433.02,269.61 L436.53,284.99 L440.05,300.19 L440.61,281.03 L441.27,268.84 L442.07,265.36 L442.86,266.47 L444.27,269.52 L447.78,284.85 L451.30,300.10 L451.86,280.99 L452.52,268.83 L453.32,265.36 L454.11,266.47 L455.52,269.52 L459.03,284.81 L462.55,300.01 L463.11,280.95 L463.77,268.82 L464.57,265.36 L465.36,266.47 L466.77,269.52 L470.28,284.76 L473.80,300.01 L474.36,280.95 L475.02,268.82 L475.82,265.36 L476.61,266.47 L478.02,269.52 L481.53,284.76 L485.05,300.01 L485.61,280.95 L486.27,268.82 L487.07,265.36 L487.86,266.47 L489.27,269.52 L492.78,284.76 L496.30,300.01 L496.86,280.95 L497.52,268.82 L498.32,265.36 L499.11,266.47 L500.52,269.52 L504.03,284.76 L497.94,265.73 L499.11,268.04 L501.93,279.96 L506.38,293.17 L510.83,306.29 L514.11,313.31 L517.86,319.14 L523.02,325.60 L526.30,328.74 L530.05,331.42" fill="none" stroke="#1f74c2" stroke-width="1.6" stroke-linejoin="round"/>
<line x1="473.30" y1="277.00" x2="473.30" y2="304.50" stroke="#ff0000" stroke-width="1.0"/>
<line x1="470.90" y1="277.00" x2="475.70" y2="277.00" stroke="#ff0000" stroke-width="1.0"/>
<line x1="470.90" y1="304.50" x2="475.70" y2="304.50" stroke="#ff0000" stroke-width="1.0"/>
<line x1="484.90" y1="271.10" x2="484.90" y2="301.50" stroke="#ff0000" stroke-width="1.0"/>
<line x1="482.50" y1="271.10" x2="487.30" y2="271.10" stroke="#ff0000" stroke-width="1.0"/>
<line x1="482.50" y1="301.50" x2="487.30" y2="301.50" stroke="#ff0000" stroke-width="1.0"/>
<line x1="496.20" y1="270.00" x2="496.20" y2="300.00" stroke="#ff0000" stroke-width="1.0"/>
<line x1="493.80" y1="270.00" x2="498.60" y2="270.00" stroke="#ff0000" stroke-width="1.0"/>
<line x1="493.80" y1="300.00" x2="498.60" y2="300.00" stroke="#ff0000" stroke-width="1.0"/>
<line x1="497.00" y1="265.00" x2="497.00" y2="292.00" stroke="#ff0000" stroke-width="1.0"/>
<line x1="494.60" y1="265.00" x2="499.40" y2="265.00" stroke="#ff0000" stroke-width="1.0"/>
<line x1="494.60" y1="292.00" x2="499.40" y2="292.00" stroke="#ff0000" stroke-width="1.0"/>
<line x1="498.60" y1="243.20" x2="498.60" y2="285.00" stroke="#ff0000" stroke-width="1.0"/>
<line x1="496.20" y1="243.20" x2="501.00" y2="243.20" stroke="#ff0000" stroke-width="1.0"/>
<line x1="496.20" y1="285.00" x2="501.00" y2="285.00" stroke="#ff0000" stroke-width="1.0"/>
<line x1="499.50" y1="250.00" x2="499.50" y2="283.00" stroke="#ff0000" stroke-width="1.0"/>
<line x1="497.10" y1="250.00" x2="501.90" y2="250.00" stroke="#ff0000" stroke-width="1.0"/>
<line x1="497.10" y1="283.00" x2="501.90" y2="283.00" stroke="#ff0000" stroke-width="1.0"/>
<line x1="501.60" y1="262.00" x2="501.60" y2="294.00" stroke="#ff0000" stroke-width="1.0"/>
<line x1="499.20" y1="262.00" x2="504.00" y2="262.00" stroke="#ff0000" stroke-width="1.0"/>
<line x1="499.20" y1="294.00" x2="504.00" y2="294.00" stroke="#ff0000" stroke-width="1.0"/>
<line x1="507.30" y1="287.90" x2="507.30" y2="311.60" stroke="#ff0000" stroke-width="1.0"/>
<line x1="504.90" y1="287.90" x2="509.70" y2="287.90" stroke="#ff0000" stroke-width="1.0"/>
<line x1="504.90" y1="311.60" x2="509.70" y2="311.60" stroke="#ff0000" stroke-width="1.0"/>
<line x1="510.30" y1="294.90" x2="510.30" y2="317.70" stroke="#ff0000" stroke-width="1.0"/>
<line x1="507.90" y1="294.90" x2="512.70" y2="294.90" stroke="#ff0000" stroke-width="1.0"/>
<line x1="507.90" y1="317.70" x2="512.70" y2="317.70" stroke="#ff0000" stroke-width="1.0"/>
<line x1="512.50" y1="301.90" x2="512.50" y2="323.00" stroke="#ff0000" stroke-width="1.0"/>
<line x1="510.10" y1="301.90" x2="514.90" y2="301.90" stroke="#ff0000" stroke-width="1.0"/>
<line x1="510.10" y1="323.00" x2="514.90" y2="323.00" stroke="#ff0000" stroke-width="1.0"/>
<line x1="518.30" y1="309.00" x2="518.30" y2="329.10" stroke="#ff0000" stroke-width="1.0"/>
<line x1="515.90" y1="309.00" x2="520.70" y2="309.00" stroke="#ff0000" stroke-width="1.0"/>
<line x1="515.90" y1="329.10" x2="520.70" y2="329.10" stroke="#ff0000" stroke-width="1.0"/>
<line x1="529.70" y1="324.70" x2="529.70" y2="334.40" stroke="#ff0000" stroke-width="1.0"/>
<line x1="527.30" y1="324.70" x2="532.10" y2="324.70" stroke="#ff0000" stroke-width="1.0"/>
<line x1="527.30" y1="334.40" x2="532.10" y2="334.40" stroke="#ff0000" stroke-width="1.0"/>
<circle cx="473.30" cy="290.70" r="2.6" fill="#ff0000"/>
<circle cx="484.90" cy="286.50" r="2.6" fill="#ff0000"/>
<circle cx="496.20" cy="284.90" r="2.6" fill="#ff0000"/>
<circle cx="497.00" cy="278.40" r="2.6" fill="#ff0000"/>
<circle cx="498.60" cy="264.00" r="2.6" fill="#ff0000"/>
<circle cx="499.50" cy="266.80" r="2.6" fill="#ff0000"/>
<circle cx="499.50" cy="278.40" r="2.6" fill="#ff0000"/>
<circle cx="501.60" cy="278.10" r="2.6" fill="#ff0000"/>
<circle cx="507.30" cy="293.50" r="2.6" fill="#ff0000"/>
<circle cx="510.30" cy="302.80" r="2.6" fill="#ff0000"/>
<circle cx="512.50" cy="308.90" r="2.6" fill="#ff0000"/>
<circle cx="518.30" cy="318.90" r="2.6" fill="#ff0000"/>
<circle cx="529.70" cy="330.00" r="2.6" fill="#ff0000"/>
</svg>
</body></html>
